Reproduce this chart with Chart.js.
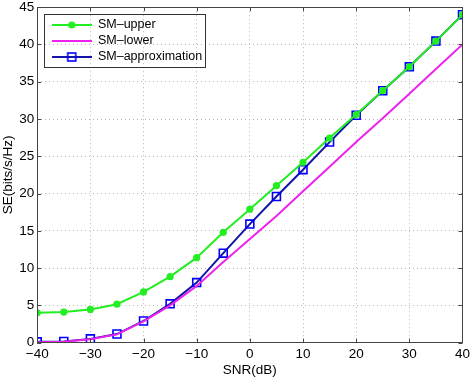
<!DOCTYPE html>
<html>
<head>
<meta charset="utf-8">
<script src="https://cdn.jsdelivr.net/npm/chart.js@4"></script>
<style>
  html, body { margin: 0; padding: 0; background: #fff; }
  #wrap { width: 474px; height: 378px; }
</style>
</head>
<body>
<div id="wrap"><canvas id="seChart"></canvas></div>
<script>
var snr = [-40, -35, -30, -25, -20, -15, -10, -5, 0, 5, 10, 15, 20, 25, 30, 35, 40];
var smUpper = [4.0, 4.1, 4.45, 5.15, 6.8, 8.85, 11.4, 14.8, 17.9, 21.05, 24.2, 27.45, 30.6, 33.8, 37.0, 40.45, 44.0];
var smLower = [0.05, 0.1, 0.45, 1.1, 2.85, 5.0, 7.6, 10.8, 13.9, 17.0, 20.3, 23.6, 26.9, 30.1, 33.4, 36.7, 40.0];
var smApprox = [0.1, 0.15, 0.5, 1.15, 2.9, 5.2, 8.05, 12.0, 15.9, 19.6, 23.2, 26.9, 30.5, 33.8, 37.0, 40.45, 44.0];

var GREEN = "#22ee22";
var MAGENTA = "#ee22ee";
var NAVY = "#1414a8";
var BLUE = "#0000ff";

function pts(ys) {
  return snr.map(function (x, i) { return { x: x, y: ys[i] }; });
}

// little legend sample: line with marker in the middle
function sample(kind) {
  var c = document.createElement("canvas");
  c.width = 40; c.height = 12;
  var g = c.getContext("2d");
  g.lineWidth = 2;
  g.strokeStyle = kind == "upper" ? GREEN : kind == "lower" ? MAGENTA : NAVY;
  g.beginPath(); g.moveTo(0, 6); g.lineTo(40, 6); g.stroke();
  if (kind == "upper") {
    g.fillStyle = GREEN;
    g.beginPath(); g.arc(20, 6, 3.6, 0, Math.PI * 2); g.fill();
  } else if (kind == "approx") {
    g.strokeStyle = BLUE; g.lineWidth = 1.6;
    g.strokeRect(16, 2, 8, 8);
  }
  return c;
}
var samples = [sample("upper"), sample("lower"), sample("approx")];

var matlabBox = {
  id: "matlabBox",
  afterLayout: function (chart) {
    var lg = chart.legend;
    lg.left = chart.chartArea.left + 11;
    lg.top = chart.chartArea.top + 8;
  },
  afterDraw: function (chart) {
    var ctx = chart.ctx, a = chart.chartArea;
    var xs = chart.scales.x, ys = chart.scales.y;
    ctx.save();
    ctx.strokeStyle = "#444";
    ctx.lineWidth = 1;
    ctx.strokeRect(Math.round(a.left) + 0.5, Math.round(a.top) + 0.5,
      Math.round(a.right - a.left), Math.round(a.bottom - a.top));
    ctx.beginPath();
    xs.ticks.forEach(function (t) {
      var px = Math.round(xs.getPixelForValue(t.value)) + 0.5;
      ctx.moveTo(px, a.bottom); ctx.lineTo(px, a.bottom - 4);
      ctx.moveTo(px, a.top); ctx.lineTo(px, a.top + 4);
    });
    ys.ticks.forEach(function (t) {
      var py = Math.round(ys.getPixelForValue(t.value)) + 0.5;
      ctx.moveTo(a.left, py); ctx.lineTo(a.left + 4, py);
      ctx.moveTo(a.right, py); ctx.lineTo(a.right - 4, py);
    });
    ctx.stroke();
    // frame around the legend
    var hb = chart.legend.legendHitBoxes;
    if (hb && hb.length) {
      var l = hb[0].left - 7.5, t = hb[0].top - 4.5;
      var r = 0, b = 0;
      hb.forEach(function (h) {
        r = Math.max(r, h.left + h.width);
        b = Math.max(b, h.top + h.height);
      });
      ctx.strokeStyle = "#333";
      ctx.strokeRect(Math.round(l) + 0.5, Math.round(t) + 0.5,
        Math.round(r + 3 - l), Math.round(b + 3.5 - t));
    }
    ctx.restore();
  }
};

var minusFmt = function (v) { return String(v).replace("-", "\u2212"); };
var tickFont = { family: "Liberation Sans", size: 13.5 };

var ctx = document.getElementById("seChart").getContext("2d");
var seChart = new Chart(ctx, {
  type: "line",
  data: {
    datasets: [
      {
        label: "SM\u2013upper",
        data: pts(smUpper),
        borderColor: GREEN,
        backgroundColor: GREEN,
        borderWidth: 2,
        pointStyle: "circle",
        pointRadius: 3.6,
        pointBorderWidth: 0,
        pointBackgroundColor: GREEN,
      },
      {
        label: "SM\u2013lower",
        data: pts(smLower),
        borderColor: MAGENTA,
        backgroundColor: MAGENTA,
        borderWidth: 2,
        pointRadius: 0,
      },
      {
        label: "SM\u2013approximation",
        data: pts(smApprox),
        borderColor: NAVY,
        backgroundColor: NAVY,
        borderWidth: 2,
        pointStyle: "rect",
        pointRadius: 5.6,
        pointBorderWidth: 1.6,
        pointBorderColor: BLUE,
        pointBackgroundColor: "rgba(255,255,255,0)",
      },
    ],
  },
  options: {
    responsive: true,
    maintainAspectRatio: false,
    animation: false,
    layout: { padding: { top: 3, right: 0, bottom: 0, left: 0 } },
    plugins: {
      legend: {
        position: "chartArea",
        align: "start",
        labels: {
          usePointStyle: true,
          pointStyleWidth: 40,
          padding: 3.5,
          color: "#000",
          font: { family: "Liberation Sans", size: 12.5 },
          generateLabels: function (chart) {
            var items = Chart.defaults.plugins.legend.labels.generateLabels(chart);
            items.forEach(function (it, i) { it.pointStyle = samples[i]; });
            return items;
          },
        },
      },
      tooltip: { enabled: false },
    },
    scales: {
      x: {
        type: "linear",
        min: -40,
        max: 40,
        ticks: {
          stepSize: 10,
          color: "#000",
          padding: 4,
          font: tickFont,
          callback: minusFmt,
        },
        grid: { color: "#b8b8b8", drawTicks: false },
        border: { display: false, dash: [1, 3] },
        title: {
          display: true,
          text: "SNR(dB)",
          color: "#000",
          padding: { top: -5, bottom: 0 },
          font: tickFont,
        },
      },
      y: {
        min: 0,
        max: 45,
        afterFit: function (scale) {
          scale.paddingTop = 0;
        },
        ticks: {
          stepSize: 5,
          color: "#000",
          padding: 3,
          font: tickFont,
        },
        grid: { color: "#b8b8b8", drawTicks: false },
        border: { display: false, dash: [1, 3] },
        title: {
          display: true,
          text: "SE(bits/s/Hz)",
          color: "#000",
          padding: { top: 0, bottom: 0 },
          font: tickFont,
        },
      },
    },
  },
  plugins: [matlabBox],
});
</script>
</body>
</html>
